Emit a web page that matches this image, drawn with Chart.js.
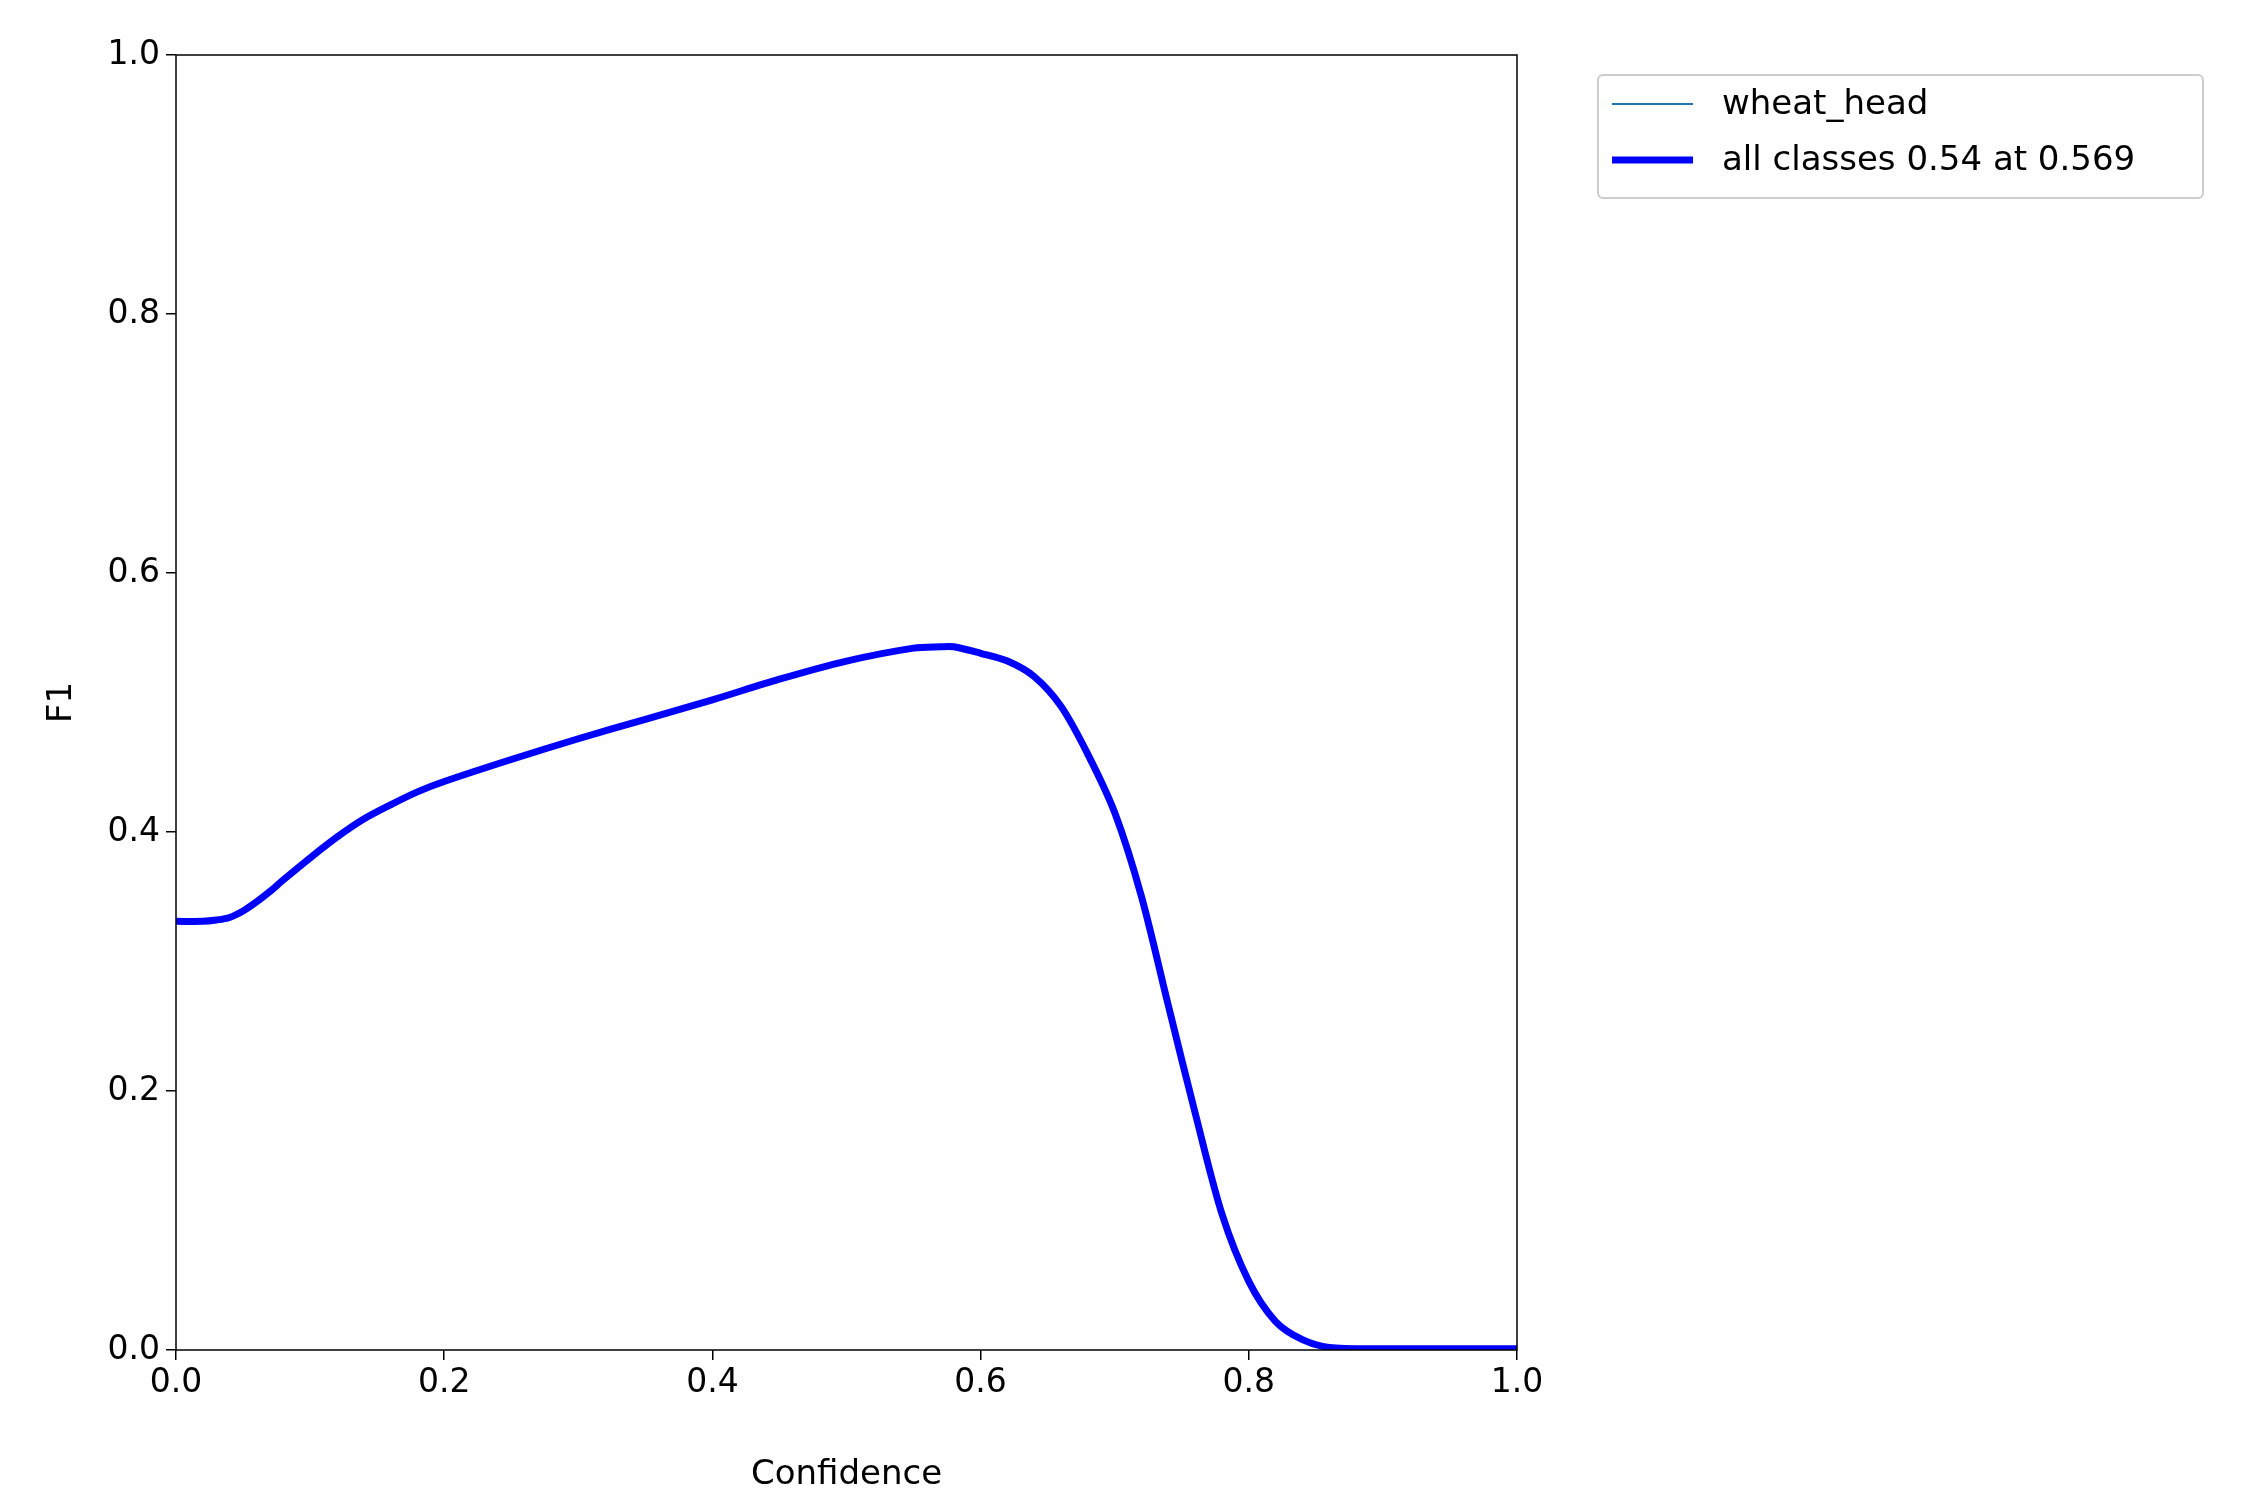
<!DOCTYPE html>
<html>
<head>
<meta charset="utf-8">
<script src="https://cdn.jsdelivr.net/npm/chart.js@4"></script>
<style>
  body { margin: 0; background: #fff; }
  #wrap { width: 2250px; height: 1500px; }
</style>
</head>
<body>
<div id="wrap"><canvas id="myChart"></canvas></div>
<script>
let confidence = [0, 0.02, 0.03, 0.04, 0.05, 0.06, 0.07, 0.08, 0.10, 0.12, 0.14, 0.16, 0.18, 0.20, 0.25, 0.30, 0.35, 0.40, 0.45, 0.50, 0.55, 0.57, 0.58, 0.60, 0.62, 0.64, 0.66, 0.68, 0.70, 0.72, 0.74, 0.76, 0.78, 0.80, 0.82, 0.84, 0.86, 0.90, 1.0];
let f1 = [0.331, 0.331, 0.332, 0.334, 0.339, 0.346, 0.354, 0.363, 0.380, 0.396, 0.410, 0.421, 0.431, 0.439, 0.456, 0.472, 0.487, 0.502, 0.518, 0.532, 0.542, 0.543, 0.543, 0.538, 0.532, 0.520, 0.497, 0.460, 0.415, 0.350, 0.266, 0.183, 0.105, 0.053, 0.022, 0.008, 0.002, 0.001, 0.001];
let ticks = [0, 0.2, 0.4, 0.6, 0.8, 1.0];

let pts = confidence.map((x, i) => ({ x: x, y: f1[i] }));

let frame = {
  id: "frame",
  afterDraw(chart) {
    let c = chart.ctx, a = chart.chartArea;
    c.save();
    c.strokeStyle = "#000";
    c.lineWidth = 1.5;
    c.strokeRect(a.left, a.top, a.right - a.left, a.bottom - a.top);
    // legend box
    c.fillStyle = "#fff";
    c.strokeStyle = "#ccc";
    c.lineWidth = 2;
    c.beginPath();
    c.roundRect(1598, 75, 605, 123, 5);
    c.fill();
    c.stroke();
    chart.data.datasets.forEach((d, i) => {
      let y = 104 + i * 56;
      c.strokeStyle = d.borderColor;
      c.lineWidth = d.borderWidth;
      c.beginPath();
      c.moveTo(1612, y);
      c.lineTo(1693, y);
      c.stroke();
      c.fillStyle = "#000";
      c.font = "34px DejaVu Sans";
      c.textBaseline = "middle";
      c.fillText(d.label, 1722, y + 1);
    });
    c.restore();
  }
};

new Chart(document.getElementById("myChart"), {
  type: "line",
  data: {
    datasets: [
      { label: "wheat_head", data: pts, borderColor: "#1f77b4", borderWidth: 2, pointRadius: 0, tension: 0, order: 2 },
      { label: "all classes 0.54 at 0.569", data: pts, borderColor: "#0000ff", borderWidth: 7, pointRadius: 0, tension: 0.3, order: 1 }
    ]
  },
  options: {
    responsive: true,
    maintainAspectRatio: false,
    animation: false,
    layout: { padding: { left: 38, right: 733, top: 55, bottom: 0 } },
    plugins: { legend: { display: false }, tooltip: { enabled: false } },
    scales: {
      x: {
        type: "linear", min: 0, max: 1,
        afterFit: s => { s.height = 150; },
        afterBuildTicks: s => { s.ticks = ticks.map(v => ({ value: v })); },
        ticks: { font: { family: "DejaVu Sans", size: 33 }, color: "#000", callback: v => v.toFixed(1), maxRotation: 0, padding: 4 },
        grid: { drawOnChartArea: false, tickLength: 10, color: "#000", lineWidth: 1.5 },
        border: { display: false },
        title: { display: true, text: "Confidence", font: { family: "DejaVu Sans", size: 34 }, color: "#000", padding: { top: 0 } }
      },
      y: {
        type: "linear", min: 0, max: 1,
        afterFit: s => { s.width = 138; },
        afterBuildTicks: s => { s.ticks = ticks.map(v => ({ value: v })); },
        ticks: { font: { family: "DejaVu Sans", size: 33 }, color: "#000", callback: v => v.toFixed(1), padding: 6 },
        grid: { drawOnChartArea: false, tickLength: 10, color: "#000", lineWidth: 1.5 },
        border: { display: false },
        title: { display: true, text: "F1", font: { family: "DejaVu Sans", size: 34 }, color: "#000", padding: { bottom: 0 } }
      }
    }
  },
  plugins: [frame]
});
</script>
</body>
</html>
